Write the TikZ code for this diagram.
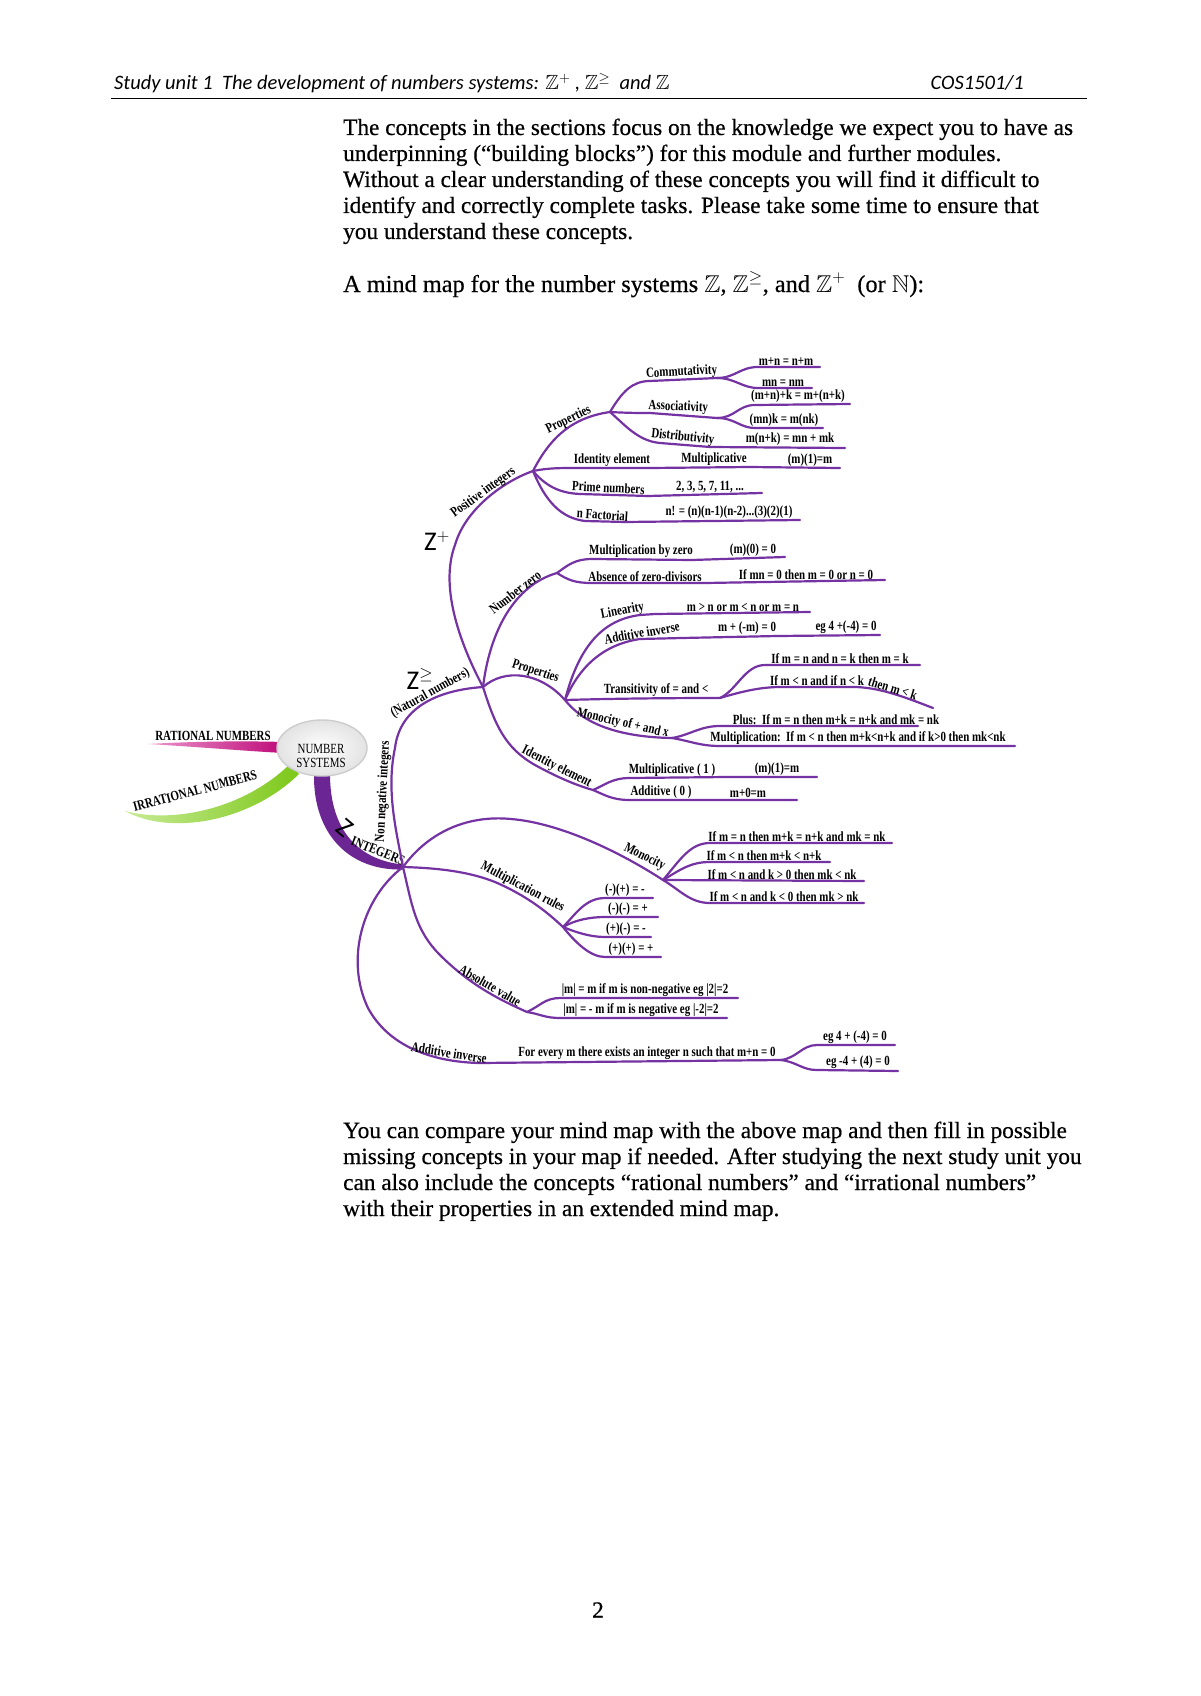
\documentclass[tikz,border=0pt]{standalone}
\usepackage{fontspec}
\usepackage{amssymb}
\setmainfont{Liberation Serif}
\newfontfamily\carl{Carlito}
\newfontfamily\mmfam[FakeStretch=0.78]{Liberation Serif}
\newfontfamily\bodyfam[FakeBold=0.5]{Liberation Serif}
\usetikzlibrary{shapes.geometric}
\definecolor{mmpurple}{RGB}{116,50,162}
\definecolor{zpurple}{RGB}{108,38,148}
\newcommand{\mmfnt}{\mmfam\fontsize{14}{15}\selectfont\bfseries}
\newcommand{\capfnt}{\mmfam\fontsize{14}{15}\selectfont\bfseries}
\newcommand{\bodyfnt}{\bodyfam\fontsize{23.3}{28}\selectfont}
\newcommand{\zfnt}{\carl\fontsize{27}{27}\selectfont}
\begin{document}
\begin{tikzpicture}[x=1pt,y=-1pt,
  mm/.style={draw=mmpurple, line width=2.2pt, line cap=round},
  lbl/.style={font=\mmfnt, inner sep=1.2pt, anchor=south},
  bodyline/.style={font=\bodyfnt, anchor=base west, inner sep=0pt},
  zlab/.style={font=\zfnt, inner sep=0pt}]
\fill[white] (0,0) rectangle (1200,1696);
\useasboundingbox (0,0) rectangle (1200,1696);

% ---------- header ----------
\node[font=\carl\itshape\fontsize{20.5}{24}\selectfont, anchor=base west, inner sep=0pt] (hdrL) at (114,90)
  {Study unit 1~ The development of numbers systems: $\mathbb{Z}^{+}$ , $\mathbb{Z}^{\geq}$ ~and $\mathbb{Z}$};
\node[font=\carl\itshape\fontsize{20.5}{24}\selectfont, anchor=base east, inner sep=0pt] (hdrR) at (1024,90) {COS1501/1};
\coordinate (ruleL) at (111,98.5);
\coordinate (ruleR) at (1087,98.5);
\draw[line width=1.6pt] (ruleL) -- (ruleR);

% ---------- body text ----------
\node[bodyline] (b1) at (343,135) {The concepts in the sections focus on the knowledge we expect you to have as};
\node[bodyline] (b2) at (343,161) {underpinning (“building blocks”) for this module and further modules.};
\node[bodyline] (b3) at (343,187) {Without a clear understanding of these concepts you will find it difficult to};
\node[bodyline] (b4) at (343,213) {identify and correctly complete tasks. Please take some time to ensure that};
\node[bodyline] (b5) at (343,239) {you understand these concepts.};
\node[bodyline, font=\bodyfam\fontsize{24.3}{28}\selectfont] (b6) at (343,292) {A mind map for the number systems $\mathbb{Z}$, $\mathbb{Z}^{\geq}$, and $\mathbb{Z}^{+}$~ (or $\mathbb{N}$):};

\node[bodyline] (c1) at (343,1138) {You can compare your mind map with the above map and then fill in possible};
\node[bodyline] (c2) at (343,1164) {missing concepts in your map if needed. After studying the next study unit you};
\node[bodyline] (c3) at (343,1190) {can also include the concepts “rational numbers” and “irrational numbers”};
\node[bodyline] (c4) at (343,1216) {with their properties in an extended mind map.};

\node[font=\bodyfnt, inner sep=0pt] (pgno) at (598,1610) {2};

% ---------- root ----------
\coordinate (ratL) at (148,744);
\coordinate (irrL) at (125,811);
\shade[left color={rgb,255:red,236;green,150;blue,205}, right color={rgb,255:red,190;green,10;blue,120}]
  (ratL) .. controls (200,741) and (250,741) .. (284,742) -- (284,753) .. controls (245,751) and (200,747) .. (ratL) -- cycle;
\shade[left color={rgb,255:red,200;green,235;blue,150}, right color={rgb,255:red,125;green,200;blue,25}]
  (irrL) .. controls (175,824) and (245,808) .. (290,764) -- (299,774) .. controls (250,822) and (170,836) .. (irrL) -- cycle;
\fill[zpurple] (314,774) .. controls (313,835) and (350,871) .. (403,869.5) -- (403,864.5) .. controls (358,860) and (330,830) .. (330,774) -- cycle;

\node[ellipse, draw={rgb,255:red,205;green,205;blue,205}, line width=1.4pt, inner color=white, outer color=gray!22,
  minimum width=90, minimum height=56] (ns) at (322,748) {};
\node[font=\mmfam\fontsize{14}{14.5}\selectfont, align=center, inner sep=0pt] (nst) at (321,756) {NUMBER\\SYSTEMS};

\node[font=\capfnt, anchor=base, inner sep=0pt] (lrat) at (213,740) {RATIONAL NUMBERS};
\node[font=\capfnt, rotate=15, inner sep=0pt] (lirr) at (195,791) {IRRATIONAL NUMBERS};
\node[zlab, rotate=-40] (lzint) at (345,828) {Z};
\node[font=\capfnt, rotate=-22, inner sep=0pt] (lint) at (378,851) {INTEGERS};

% ---------- hubs ----------
\coordinate (zh) at (403,867);
\coordinate (h2) at (483,687);
\coordinate (pz) at (533,471);

\node[zlab] (lzplus) at (437,541) {Z$^{+}$};
\node[zlab] (lzgeq) at (420,679) {Z$^{\geq}$};

% non negative integers
\draw[mm] (zh) .. controls (396,830) and (386,790) .. (395,748) .. controls (400,706) and (440,690) .. (h2);
\node[lbl, rotate=87] (lnn1) at (391,792) {Non negative integers};
\node[lbl, rotate=29] (lnn2) at (434,700) {(Natural numbers)};

% ---------- positive integers ----------
\draw[mm] (h2) .. controls (458,640) and (440,585) .. (455,545) .. controls (465,510) and (502,482) .. (pz);
\node[lbl, rotate=36] (lpos) at (488,499) {Positive integers};

\coordinate (pp) at (610,412);
\draw[mm] (pz) .. controls (548,442) and (568,418) .. (pp);
\node[lbl, rotate=26] (lpp) at (572,427) {Properties};

\coordinate (pc) at (717,378);
\draw[mm] (pp) .. controls (622,392) and (632,381) .. (650,381) -- (pc);
\node[lbl, rotate=3] (lpc) at (682,380) {Commutativity};
\coordinate (pc1) at (820,367);
\coordinate (pc2) at (812,388);
\draw[mm] (pc) .. controls (735,378) and (740,367) .. (758,367) -- (pc1);
\node[lbl] (lpc1) at (786,367) {m+n = n+m};
\draw[mm] (pc) .. controls (735,378) and (742,388) .. (758,388) -- (pc2);
\node[lbl] (lpc2) at (783,388) {mn = nm};

\coordinate (pa) at (717,418);
\draw[mm] (pp) .. controls (628,413) and (640,413) .. (650,413) -- (pa);
\node[lbl, rotate=-2] (lpa) at (678,415) {Associativity};
\coordinate (pa1) at (850,404);
\coordinate (pa2) at (823,428);
\draw[mm] (pa) .. controls (735,418) and (738,405) .. (755,405) -- (pa1);
\node[lbl] (lpa1) at (798,404) {(m+n)+k = m+(n+k)};
\draw[mm] (pa) .. controls (735,418) and (740,428) .. (755,428) -- (pa2);
\node[lbl] (lpa2) at (784,428) {(mn)k = m(nk)};

\coordinate (pd) at (710,447);
\draw[mm] (pp) .. controls (625,425) and (638,441) .. (660,443) -- (pd);
\node[lbl, rotate=-6] (lpd) at (682,445) {Distributivity};
\coordinate (pd1) at (845,448);
\draw[mm] (pd) -- (pd1);
\node[lbl] (lpd1) at (790,447) {m(n+k) = mn + mk};

\coordinate (pie) at (650,468);
\draw[mm] (pz) .. controls (548,468) and (560,468) .. (575,468) -- (pie);
\node[lbl] (lpie) at (612,468) {Identity element};
\coordinate (pim) at (750,467);
\draw[mm] (pie) -- (pim);
\node[lbl] (lpim) at (714,467) {Multiplicative};
\coordinate (pim1) at (840,468);
\draw[mm] (pim) -- (pim1);
\node[lbl] (lpim1) at (810,468) {(m)(1)=m};

\coordinate (ppn) at (648,496);
\draw[mm] (pz) .. controls (545,485) and (558,493) .. (580,494) -- (ppn);
\node[lbl, rotate=-3] (lppn) at (608,494) {Prime numbers};
\coordinate (ppn1) at (762,493);
\draw[mm] (ppn) -- (ppn1);
\node[lbl] (lppn1) at (710,494) {2, 3, 5, 7, 11, ...};

\coordinate (pf) at (625,522);
\draw[mm] (pz) .. controls (545,500) and (560,518) .. (585,521) -- (pf);
\node[lbl, rotate=-4] (lpf) at (602,521) {n Factorial};
\coordinate (pf1) at (800,520);
\draw[mm] (pf) -- (pf1);
\node[lbl] (lpf1) at (729,520) {n! = (n)(n-1)(n-2)...(3)(2)(1)};

% ---------- number zero ----------
\coordinate (nz) at (557,573);
\draw[mm] (h2) .. controls (490,630) and (515,585) .. (nz);
\node[lbl, rotate=38] (lnz) at (519,597) {Number zero};
\coordinate (mz) at (692,560);
\coordinate (mz1) at (785,557);
\draw[mm] (nz) .. controls (568,565) and (575,559) .. (592,559) -- (mz) -- (mz1);
\node[lbl] (lmz) at (641,559) {Multiplication by zero};
\node[lbl] (lmz1) at (753,558) {(m)(0) = 0};
\coordinate (az) at (705,583);
\coordinate (az1) at (885,580);
\draw[mm] (nz) .. controls (568,580) and (575,583) .. (592,583) -- (az) -- (az1);
\node[lbl] (laz) at (645,583) {Absence of zero-divisors};
\node[lbl] (laz1) at (806,581) {If mn = 0 then m = 0 or n = 0};

% ---------- properties (natural numbers) ----------
\coordinate (zp) at (565,700);
\draw[mm] (h2) .. controls (505,668) and (540,672) .. (zp);
\node[lbl, rotate=-18] (lzp) at (533,679) {Properties};

\coordinate (zl) at (655,614);
\coordinate (zl1) at (810,612);
\draw[mm] (zp) .. controls (578,650) and (600,620) .. (640,615) -- (zl) -- (zl1);
\node[lbl, rotate=11] (lzl) at (624,619) {Linearity};
\node[lbl] (lzl1) at (743,613) {m > n or m < n or m = n};

\coordinate (zai) at (682,638);
\coordinate (zai2) at (777,636);
\coordinate (zai3) at (880,635);
\draw[mm] (zp) .. controls (578,670) and (600,645) .. (640,639) -- (zai) -- (zai2) -- (zai3);
\node[lbl, rotate=10] (lzai) at (643,639) {Additive inverse};
\node[lbl] (lzai2) at (747,636) {m + (-m) = 0};
\node[lbl] (lzai3) at (846,635) {eg 4 +(-4) = 0};

\coordinate (zt) at (720,698);
\draw[mm] (zp) .. controls (600,699) and (650,698) .. (zt);
\node[lbl] (lzt) at (656,698) {Transitivity of = and <};
\coordinate (zt1) at (920,665);
\draw[mm] (zt) .. controls (737,690) and (745,665) .. (765,665) -- (zt1);
\node[lbl] (lzt1) at (840,665) {If m = n and n = k then m = k};
\coordinate (zt2) at (933,708);
\draw[mm] (zt) .. controls (740,692) and (760,687) .. (780,687) -- (856,687) .. controls (882,688) and (907,698) .. (zt2);
\node[lbl] (lzt2) at (817,687) {If m < n and if n < k};
\node[lbl, rotate=-17] (lzt3) at (891,694) {then m < k};

\coordinate (zm) at (672,738);
\draw[mm] (zp) .. controls (582,722) and (615,737) .. (zm);
\node[lbl, rotate=-13] (lzm) at (621,731) {Monocity of + and x};
\coordinate (zm1) at (918,726);
\draw[mm] (zm) .. controls (690,735) and (700,726) .. (720,726) -- (zm1);
\node[lbl] (lzm1) at (836,726) {Plus:\ \ If m = n then m+k = n+k and mk = nk};
\coordinate (zm2) at (1015,746);
\draw[mm] (zm) .. controls (690,741) and (700,746) .. (720,746) -- (zm2);
\node[lbl] (lzm2) at (858,746) {Multiplication:\ \ If m < n then m+k<n+k and if k>0 then mk<nk};

\coordinate (zi) at (593,790);
\draw[mm] (h2) .. controls (495,725) and (505,748) .. (535,765) .. controls (555,776) and (575,785) .. (zi);
\node[lbl, rotate=-27] (lzi) at (553,774) {Identity element};
\coordinate (zi1) at (727,777);
\coordinate (zi2) at (817,777);
\draw[mm] (zi) .. controls (605,785) and (612,778) .. (630,778) -- (zi1) -- (zi2);
\node[lbl] (lzi1) at (672,778) {Multiplicative ( 1 )};
\node[lbl] (lzi2) at (777,777) {(m)(1)=m};
\coordinate (zi3) at (699,800);
\coordinate (zi4) at (797,800);
\draw[mm] (zi) .. controls (605,795) and (612,800) .. (630,800) -- (zi3) -- (zi4);
\node[lbl] (lzi3) at (661,800) {Additive ( 0 )};
\node[lbl] (lzi4) at (748,799) {m+0=m};

% ---------- integers ----------
\coordinate (zmh) at (663,880);
\draw[mm] (zh) .. controls (430,830) and (470,815) .. (511,819) .. controls (560,823) and (620,852) .. (zmh);
\node[lbl, rotate=-27] (lzmh) at (641,864) {Monocity};
\coordinate (zmh1) at (892,843);
\coordinate (zmh2) at (830,862);
\coordinate (zmh3) at (864,881);
\coordinate (zmh4) at (864,903);
\draw[mm] (zmh) .. controls (680,860) and (690,843) .. (710,843) -- (zmh1);
\node[lbl] (lzmh1) at (797,843) {If m = n then m+k = n+k and mk = nk};
\draw[mm] (zmh) .. controls (680,870) and (690,862) .. (710,862) -- (zmh2);
\node[lbl] (lzmh2) at (764,862) {If m < n then m+k < n+k};
\draw[mm] (zmh) -- (zmh3);
\node[lbl] (lzmh3) at (782,881) {If m < n and k > 0 then mk < nk};
\draw[mm] (zmh) .. controls (680,890) and (690,903) .. (710,903) -- (zmh4);
\node[lbl] (lzmh4) at (784,903) {If m < n and k < 0 then mk > nk};

\coordinate (zmr) at (563,927);
\draw[mm] (zh) .. controls (440,868) and (470,872) .. (495,882) .. controls (525,895) and (545,910) .. (zmr);
\node[lbl, rotate=-28] (lzmr) at (519,894) {Multiplication rules};
\coordinate (zmr1) at (653,898);
\coordinate (zmr2) at (658,917);
\coordinate (zmr3) at (651,937);
\coordinate (zmr4) at (661,957);
\draw[mm] (zmr) .. controls (575,915) and (585,898) .. (605,898) -- (zmr1);
\node[lbl] (lzmr1) at (625,898) {(-)(+) = -};
\draw[mm] (zmr) .. controls (575,920) and (590,917) .. (605,917) -- (zmr2);
\node[lbl] (lzmr2) at (628,917) {(-)(-) = +};
\draw[mm] (zmr) .. controls (575,932) and (590,937) .. (605,937) -- (zmr3);
\node[lbl] (lzmr3) at (626,937) {(+)(-) = -};
\draw[mm] (zmr) .. controls (575,942) and (590,957) .. (605,957) -- (zmr4);
\node[lbl] (lzmr4) at (631,957) {(+)(+) = +};

\coordinate (zav) at (527,1012);
\draw[mm] (zh) .. controls (412,905) and (415,930) .. (440,955) .. controls (470,985) and (500,1000) .. (zav);
\node[lbl, rotate=-30] (lzav) at (487,991) {Absolute value};
\coordinate (zav1) at (738,998);
\coordinate (zav2) at (727,1018);
\draw[mm] (zav) .. controls (540,1006) and (545,998) .. (560,998) -- (zav1);
\node[lbl] (lzav1) at (645,998) {|m| = m if m is non-negative eg |2|=2};
\draw[mm] (zav) .. controls (540,1014) and (545,1018) .. (560,1018) -- (zav2);
\node[lbl] (lzav2) at (641,1018) {|m| = - m if m is negative eg |-2|=2};

\coordinate (zad) at (781,1060);
\draw[mm] (zh) .. controls (362,898) and (345,960) .. (368,1008) .. controls (388,1045) and (430,1062) .. (480,1063) -- (zad);
\node[lbl, rotate=-9] (lzad) at (448,1059) {Additive inverse};
\node[lbl] (lzad0) at (647,1061) {For every m there exists an integer n such that m+n = 0};
\coordinate (zad1) at (895,1045);
\coordinate (zad2) at (898,1071);
\draw[mm] (zad) .. controls (797,1058) and (802,1045) .. (817,1045) -- (zad1);
\node[lbl] (lzad1) at (855,1045) {eg 4 + (-4) = 0};
\draw[mm] (zad) .. controls (797,1062) and (802,1070) .. (817,1070) -- (zad2);
\node[lbl] (lzad2) at (858,1070) {eg -4 + (4) = 0};
\end{tikzpicture}
\end{document}
